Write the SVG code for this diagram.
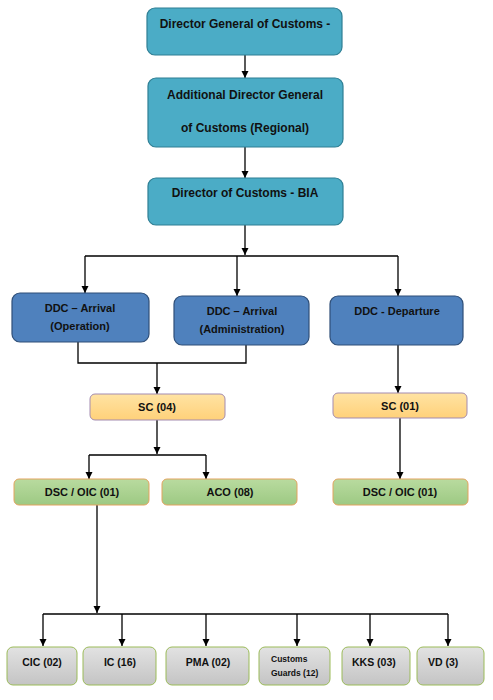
<svg xmlns="http://www.w3.org/2000/svg" width="493" height="700" viewBox="0 0 493 700">
<style>
text{font-family:"Liberation Sans",Arial,sans-serif;font-weight:bold;font-size:11px;fill:#111;text-anchor:middle;dominant-baseline:central}
.big{font-size:12px}
.sm{font-size:10.5px}
.teal{fill:#4BACC6;stroke:#2F7F94;stroke-width:1.2}
.blue{fill:#4F81BD;stroke:#2F4F78;stroke-width:1.2}
.yel{fill:url(#gy);stroke:#A38BB0;stroke-width:1}
.grn{fill:url(#gg);stroke:#E3A35E;stroke-width:1}
.gry{fill:url(#gr);stroke:#9BBB59;stroke-width:1}
.ln{fill:none;stroke:#000;stroke-width:1.3}
.ar{marker-end:url(#ah)}
</style>
<defs>
<marker id="ah" markerWidth="8" markerHeight="8" refX="7" refY="4" orient="auto" markerUnits="userSpaceOnUse"><path d="M0,0.5 L7,4 L0,7.5 z" fill="#000"/></marker>
<linearGradient id="gy" x1="0" y1="0" x2="0" y2="1"><stop offset="0" stop-color="#FFE3A3"/><stop offset="1" stop-color="#FFD17A"/></linearGradient>
<linearGradient id="gg" x1="0" y1="0" x2="0" y2="1"><stop offset="0" stop-color="#B9DB9F"/><stop offset="1" stop-color="#9DC983"/></linearGradient>
<linearGradient id="gr" x1="0" y1="0" x2="0" y2="1"><stop offset="0" stop-color="#E2E2E2"/><stop offset="1" stop-color="#C4C4C4"/></linearGradient>
</defs>
<g id="connectors">
<path class="ln ar" d="M245,55 V78"/>
<path class="ln ar" d="M245,147 V178"/>
<path class="ln ar" d="M245,225 V255"/>
<path class="ln" d="M85,256 H398"/>
<path class="ln ar" d="M85,256 V293"/>
<path class="ln ar" d="M237,256 V296"/>
<path class="ln ar" d="M398,256 V296"/>
<path class="ln" d="M78,342 V363 H246 V345"/>
<path class="ln ar" d="M157,363 V394"/>
<path class="ln ar" d="M398,345 V393"/>
<path class="ln ar" d="M157,420 V454"/>
<path class="ln" d="M89,455 H206"/>
<path class="ln ar" d="M89,455 V479"/>
<path class="ln ar" d="M206,455 V479"/>
<path class="ln ar" d="M400,418 V479"/>
<path class="ln ar" d="M97,505 V613"/>
<path class="ln" d="M43,614 H448"/>
<path class="ln ar" d="M43,614 V646"/>
<path class="ln ar" d="M122,614 V646"/>
<path class="ln ar" d="M206,614 V646"/>
<path class="ln ar" d="M297,614 V646"/>
<path class="ln ar" d="M370,614 V646"/>
<path class="ln ar" d="M448,614 V646"/>
</g>
<g id="dg"><rect class="teal" x="147" y="8" width="195" height="47" rx="8"/><text class="big" x="245" y="24">Director General of Customs -</text></g>
<g id="adg"><rect class="teal" x="148" y="78" width="195" height="69" rx="8"/><text class="big" x="245" y="95">Additional Director General</text><text class="big" x="245" y="128">of Customs (Regional)</text></g>
<g id="doc"><rect class="teal" x="148" y="178" width="195" height="47" rx="8"/><text class="big" x="245" y="193">Director of Customs - BIA</text></g>
<g id="ddc-op"><rect class="blue" x="12" y="293" width="137" height="49" rx="8"/><text x="80" y="308">DDC – Arrival</text><text x="80" y="326">(Operation)</text></g>
<g id="ddc-adm"><rect class="blue" x="174" y="296" width="135" height="49" rx="8"/><text x="242" y="311">DDC – Arrival</text><text x="242" y="329">(Administration)</text></g>
<g id="ddc-dep"><rect class="blue" x="330" y="296" width="133" height="49" rx="8"/><text x="397" y="311">DDC - Departure</text></g>
<g id="sc04"><rect class="yel" x="90" y="394" width="135" height="26" rx="5"/><text x="157" y="407">SC (04)</text></g>
<g id="sc01"><rect class="yel" x="333" y="393" width="134" height="25" rx="5"/><text x="400" y="406">SC (01)</text></g>
<g id="dsc-l"><rect class="grn" x="14" y="479" width="135" height="26" rx="5"/><text x="82" y="492">DSC / OIC (01)</text></g>
<g id="aco"><rect class="grn" x="162" y="479" width="135" height="26" rx="5"/><text x="230" y="492">ACO (08)</text></g>
<g id="dsc-r"><rect class="grn" x="333" y="479" width="135" height="26" rx="5"/><text x="400" y="492">DSC / OIC (01)</text></g>
<g id="cic"><rect class="gry" x="7" y="647" width="70" height="38" rx="6"/><text class="sm" x="42" y="662">CIC (02)</text></g>
<g id="ic"><rect class="gry" x="83" y="647" width="73" height="38" rx="6"/><text class="sm" x="120" y="662">IC (16)</text></g>
<g id="pma"><rect class="gry" x="166" y="647" width="83" height="38" rx="6"/><text class="sm" x="208" y="662">PMA (02)</text></g>
<g id="cg"><rect class="gry" x="259" y="647" width="71" height="38" rx="6"/><text x="271" y="659" style="font-size:8.5px;text-anchor:start">Customs</text><text x="271" y="673" style="font-size:8.5px;text-anchor:start">Guards (12)</text></g>
<g id="kks"><rect class="gry" x="342" y="647" width="68" height="38" rx="6"/><text class="sm" x="352" y="662" style="text-anchor:start">KKS (03)</text></g>
<g id="vd"><rect class="gry" x="417" y="647" width="67" height="38" rx="6"/><text class="sm" x="428" y="662" style="text-anchor:start">VD (3)</text></g>
</svg>
